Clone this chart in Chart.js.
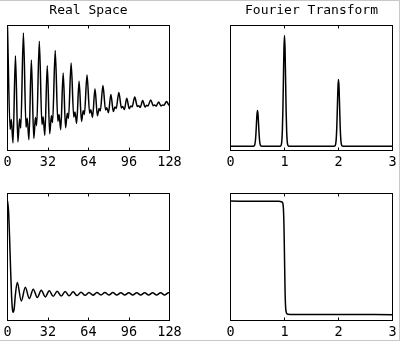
<!DOCTYPE html>
<html>
<head>
<meta charset="utf-8">
<script src="https://cdn.jsdelivr.net/npm/chart.js@4.4.0/dist/chart.umd.min.js"></script>
<style>
  html, body { margin: 0; padding: 0; background: #fff; }
  #wrap { position: relative; width: 400px; height: 341px; background: #fff; overflow: hidden; }
  canvas { position: absolute; }
  #frame { position: absolute; left: 0; top: 0; width: 400px; height: 341px; box-sizing: border-box;
           border-top: 1px solid #c8c8c8; border-right: 1px solid #c8c8c8; border-bottom: 1px solid #c8c8c8; pointer-events: none; }
</style>
</head>
<body>
<div id="wrap">
  <canvas id="c1" width="200" height="170" style="left:0;top:0"></canvas>
  <canvas id="c2" width="200" height="170" style="left:200px;top:0"></canvas>
  <canvas id="c3" width="200" height="171" style="left:0;top:170px"></canvas>
  <canvas id="c4" width="200" height="171" style="left:200px;top:170px"></canvas>
  <div id="frame"></div>
</div>
<script>
// ---- data ----
const titles = ["Real Space", "Fourier Transform"];
const realTicks = [0, 32, 64, 96, 128];
const freqTicks = [0, 1, 2, 3];

// Top-left: real-space signal (extrema)
const realTopX = [0, 2.08, 3.02, 4.36, 6.28, 8.20, 9.54, 10.48, 12.57, 14.65, 15.59, 16.93, 18.85, 20.77, 22.11, 23.05,
  25.13, 27.21, 28.15, 29.49, 31.42, 33.34, 34.68, 35.62, 37.70, 39.78, 40.72, 42.06, 43.98, 45.90, 47.24, 48.18,
  50.27, 52.35, 53.29, 54.63, 56.55, 58.47, 59.81, 60.75, 62.83, 64.91, 65.85, 67.19, 69.12, 71.04, 72.38, 73.32,
  75.40, 77.48, 78.42, 79.76, 81.68, 83.60, 84.94, 85.88, 87.96, 90.04, 90.98, 92.32, 94.25, 96.17, 97.51, 98.45,
  100.53, 102.61, 103.55, 104.89, 106.81, 108.73, 110.07, 111.01, 113.10, 115.18, 116.12, 117.46, 119.38, 121.30, 122.64, 123.58,
  125.66, 127.74, 128];
const realTopY = [99, 16.9, 24.8, 6.1, 75.8, 6.9, 25.3, 18.0, 94.0, 18.6, 25.8, 8.7, 72.5, 9.7, 26.5, 20.0,
  87.5, 20.8, 27.1, 12.2, 67.9, 13.4, 27.9, 22.4, 80.0, 23.4, 28.8, 16.6, 62.0, 18.2, 29.8, 25.6,
  70.0, 26.7, 30.8, 21.8, 55.4, 23.3, 31.8, 28.8, 60.5, 29.8, 32.7, 26.5, 49.5, 27.8, 33.6, 31.6,
  52.0, 32.4, 34.3, 30.3, 44.9, 31.2, 34.8, 33.6, 46.5, 34.1, 35.3, 32.8, 41.9, 33.4, 35.7, 34.9,
  42.8, 35.2, 35.9, 34.5, 40.0, 34.8, 36.2, 35.7, 40.5, 35.9, 36.4, 35.5, 38.8, 35.7, 36.5, 36.2,
  39.2, 36.3, 36.4];

// Top-right: Fourier transform with three peaks
const ftTopX = [0, 0.42, 0.43, 0.44, 0.45, 0.46, 0.47, 0.48, 0.49, 0.50, 0.51, 0.52, 0.53, 0.54, 0.55, 0.56, 0.57, 0.58,
  0.92, 0.93, 0.94, 0.95, 0.96, 0.97, 0.98, 0.99, 1.00, 1.01, 1.02, 1.03, 1.04, 1.05, 1.06, 1.07, 1.08,
  1.92, 1.93, 1.94, 1.95, 1.96, 1.97, 1.98, 1.99, 2.00, 2.01, 2.02, 2.03, 2.04, 2.05, 2.06, 2.07, 2.08, 3];
const ftTopY = [3.5, 3.5, 3.56, 3.8, 4.75, 7.4, 12.8, 20.8, 28.7, 32.0, 28.7, 20.8, 12.8, 7.4, 4.75, 3.8, 3.56, 3.5,
  3.5, 3.7, 4.5, 7.4, 15.5, 32.2, 57.2, 81.6, 92.0, 81.6, 57.2, 32.2, 15.5, 7.4, 4.5, 3.7, 3.5,
  3.5, 3.6, 4.1, 5.8, 10.7, 20.8, 35.8, 50.5, 56.8, 50.5, 35.8, 20.8, 10.7, 5.8, 4.1, 3.6, 3.5, 3.5];

// Bottom-left: real-space response
const realBotX = [0, 0.8, 1.6, 2.4, 3.2, 3.9, 4.49, 5.3, 6.2, 7.73, 10.90, 14.07, 17.22, 20.37, 23.52, 26.67,
  29.85, 32.99, 36.13, 39.27, 42.41, 45.55, 48.69, 51.84, 54.98, 58.12, 61.26, 64.40, 67.54, 70.69, 73.83, 76.97,
  80.11, 83.25, 86.39, 89.54, 92.68, 95.82, 98.96, 102.10, 105.24, 108.38, 111.53, 114.67, 117.81, 120.95, 124.09, 127.23, 128];
const realBotY = [94, 86.5, 66.6, 41.5, 19.7, 9.0, 6.5, 9.5, 20.0, 30.0, 15.3, 26.2, 17.3, 24.7, 18.1, 23.8,
  18.6, 23.4, 19.0, 23.1, 19.2, 22.9, 19.4, 22.6, 19.6, 22.3, 19.8, 22.1, 19.9, 22.0, 20.0, 22.0,
  20.0, 21.95, 20.05, 21.9, 20.1, 21.9, 20.1, 21.9, 20.1, 21.9, 20.1, 21.9, 20.1, 21.9, 20.1, 21.9, 21.7];

// Bottom-right: step in frequency
const ftBotX = [0, 0.50, 0.90, 0.94, 0.96, 0.97, 0.98, 0.99, 1.00, 1.01, 1.02, 1.03, 1.04, 1.06, 1.20, 2.00, 3.00];
const ftBotY = [94, 93.9, 93.8, 93.5, 93.0, 92.0, 88.0, 75.0, 50.0, 24.0, 11.0, 7.0, 5.6, 5.0, 4.8, 4.7, 4.6];

// ---- rendering ----
const FONT = '"DejaVu Sans Mono", "Liberation Mono", monospace';

const boxPlugin = {
  id: 'box',
  afterDraw(chart) {
    const { ctx, chartArea: a, scales } = chart;
    const x = scales.x;
    ctx.save();
    ctx.strokeStyle = '#000';
    ctx.lineWidth = 1;
    ctx.strokeRect(a.left, a.top, a.right - a.left, a.bottom - a.top);
    ctx.beginPath();
    for (const t of x.ticks) {
      if (t.value <= x.min || t.value >= x.max) continue;
      const px = Math.floor(x.getPixelForValue(t.value)) + 0.5;
      ctx.moveTo(px, a.bottom); ctx.lineTo(px, a.bottom - 3);
      ctx.moveTo(px, a.top); ctx.lineTo(px, a.top + 3);
    }
    ctx.stroke();
    ctx.restore();
  }
};

function makeChart(id, xs, ys, ticks, title, pad, xHeight) {
  const data = xs.map((v, i) => ({ x: v, y: ys[i] }));
  return new Chart(document.getElementById(id), {
    type: 'line',
    data: { datasets: [{ data, borderColor: '#000', borderWidth: 1.5, pointRadius: 0,
      fill: false, cubicInterpolationMode: 'monotone' }] },
    options: {
      responsive: false, animation: false, devicePixelRatio: 1,
      layout: { padding: pad },
      plugins: {
        legend: { display: false }, tooltip: { enabled: false },
        title: title ? { display: true, text: title, color: '#000',
          font: { family: FONT, size: 13, weight: 'normal', lineHeight: '15px' },
          padding: { top: 3, bottom: 7.5 } } : { display: false }
      },
      scales: {
        x: {
          type: 'linear', min: ticks[0], max: ticks[ticks.length - 1],
          grid: { display: false, drawTicks: false }, border: { display: false },
          afterBuildTicks: (s) => { s.ticks = ticks.map(v => ({ value: v })); },
          afterFit: (s) => { s.height = xHeight; s.paddingLeft = 0; s.paddingRight = 0; s.paddingTop = 0; s.paddingBottom = 0; },
          ticks: { color: '#000', autoSkip: false, maxRotation: 0, padding: 5,
            font: { family: FONT, size: 13.5, lineHeight: 1 } }
        },
        y: { type: 'linear', min: 0, max: 100, display: false }
      }
    },
    plugins: [boxPlugin]
  });
}

makeChart('c1', realTopX, realTopY, realTicks, titles[0], { left: 7.5, right: 30.5, top: 0, bottom: 0 }, 19.5);
makeChart('c2', ftTopX, ftTopY, freqTicks, titles[1], { left: 30.5, right: 7.5, top: 0, bottom: 0 }, 19.5);
makeChart('c3', realBotX, realBotY, realTicks, null, { left: 7.5, right: 30.5, top: 23.5, bottom: 0 }, 20.5);
makeChart('c4', ftBotX, ftBotY, freqTicks, null, { left: 30.5, right: 7.5, top: 23.5, bottom: 0 }, 20.5);
</script>
</body>
</html>
